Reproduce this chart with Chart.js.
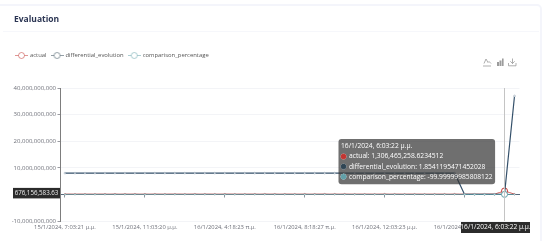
<!DOCTYPE html>
<html>
<head>
<meta charset="utf-8">
<script src="https://cdn.jsdelivr.net/npm/chart.js@4"></script>
<style>
html,body{margin:0;padding:0;background:#fff;width:550px;height:241px;overflow:hidden}
#card{position:absolute;left:-6px;top:4px;width:548px;height:300px;border:2px solid #f4f5fb;border-radius:5px;box-sizing:border-box}
#rule{position:absolute;left:3px;top:31px;width:536px;height:1px;background:#f6f7fb}
canvas{position:absolute;left:0;top:0}
</style>
</head>
<body>
<div id="card"></div><div id="rule"></div>
<canvas id="c" width="550" height="241"></canvas>
<script>
const titleText = 'Evaluation';
const seriesNames = ['actual', 'differential_evolution', 'comparison_percentage'];
const seriesColors = ['#c23531', '#2f4554', '#61a0a8'];
const tickLabels = {
  1: '15/1/2024, 7:03:21 μ.μ.',
  17: '15/1/2024, 11:03:20 μ.μ.',
  33: '16/1/2024, 4:18:23 π.μ.',
  49: '16/1/2024, 8:18:27 π.μ.',
  65: '16/1/2024, 12:03:23 μ.μ.',
  81: '16/1/2024, 4:03:22 μ.μ.'
};
const yMin = -10000000000, yMax = 40000000000, yStep = 10000000000;
const hoverIndex = 89;
const hoverTime = '16/1/2024, 6:03:22 μ.μ.';
const hoverY = 676156583.63;

const actual = [null,
 90000000,110000000,85000000,120000000,95000000,105000000,80000000,115000000,100000000,90000000,
 125000000,85000000,110000000,95000000,120000000,80000000,105000000,90000000,115000000,100000000,
 85000000,120000000,95000000,110000000,80000000,105000000,125000000,90000000,100000000,115000000,
 85000000,95000000,110000000,120000000,80000000,105000000,90000000,115000000,100000000,85000000,
 125000000,95000000,110000000,80000000,105000000,120000000,90000000,100000000,115000000,85000000,
 95000000,110000000,125000000,80000000,105000000,90000000,120000000,100000000,85000000,115000000,
 95000000,110000000,80000000,105000000,125000000,90000000,100000000,115000000,85000000,120000000,
 95000000,110000000,80000000,105000000,90000000,115000000,100000000,85000000,120000000,95000000,
 110000000,90000000,105000000,85000000,115000000,120000000,110000000,700000000,1306465258.6234512,700000000,
 95000000,null];
const differential_evolution = [null,
 8000000000,8000000000,8000000000,8000000000,8000000000,8000000000,8000000000,8000000000,8000000000,8000000000,
 8000000000,8000000000,8000000000,8000000000,8000000000,8000000000,8000000000,8000000000,8000000000,8000000000,
 8000000000,8000000000,8000000000,8000000000,8000000000,8000000000,8000000000,8000000000,8000000000,8000000000,
 8000000000,8000000000,8000000000,8000000000,8000000000,8000000000,8000000000,8000000000,8000000000,8000000000,
 8000000000,8000000000,8000000000,8000000000,8000000000,8000000000,8000000000,8000000000,8000000000,8000000000,
 8000000000,8000000000,8000000000,8000000000,8000000000,8000000000,8000000000,8000000000,8000000000,8000000000,
 8000000000,8000000000,8000000000,8000000000,8000000000,8000000000,8000000000,8000000000,8000000000,8000000000,
 8000000000,8000000000,8000000000,8000000000,8000000000,8000000000,8000000000,8000000000,8000000000,4000000000,
 3,2,2,3,2,2,3,2,1.8541195471452028,18500000000,
 37000000000,null];
const comparison_percentage = [null,
 -100,-100,-100,-100,-100,-100,-100,-100,-100,-100,
 -100,-100,-100,-100,-100,-100,-100,-100,-100,-100,
 -100,-100,-100,-100,-100,-100,-100,-100,-100,-100,
 -100,-100,-100,-100,-100,-100,-100,-100,-100,-100,
 -100,-100,-100,-100,-100,-100,-100,-100,-100,-100,
 -100,-100,-100,-100,-100,-100,-100,-100,-100,-100,
 -100,-100,-100,-100,-100,-100,-100,-100,-100,-100,
 -100,-100,-100,-100,-100,-100,-100,-100,-100,-100,
 -100,-100,-100,-100,-100,-100,-100,-100,-99.99999985808122,-100,
 -100,null];
const seriesData = [actual, differential_evolution, comparison_percentage];
const categories = actual.map((v, i) => tickLabels[i] || '');

const FONT = '"Open Sans"';

function legendIcon(color) {
  const c = document.createElement('canvas');
  c.width = 13; c.height = 9;
  const g = c.getContext('2d');
  g.strokeStyle = color; g.globalAlpha = 0.65; g.lineWidth = 0.8;
  g.beginPath(); g.moveTo(0, 4.5); g.lineTo(13, 4.5); g.stroke();
  g.globalAlpha = 1;
  g.beginPath(); g.arc(6.5, 4.5, 3, 0, Math.PI * 2);
  g.fillStyle = '#fff'; g.fill(); g.globalAlpha = 0.65; g.stroke();
  return c;
}
const icons = seriesColors.map(legendIcon);

function fmt(v) {
  const s = String(v), neg = s[0] === '-';
  const [a, b] = s.replace('-', '').split('.');
  return (neg ? '-' : '') + a.replace(/\B(?=(\d{3})+$)/g, ',') + (b ? '.' + b : '');
}

Chart.Tooltip.positioners.fixedBox = function () {
  return { x: 341.5, y: 139 };
};

const overlay = {
  id: 'overlay',
  beforeUpdate(chart) {
    const lg = chart.legend;
    if (!lg.__wrapped) {
      const f = lg.fit;
      lg.fit = function () { f.call(this); this.height = 40.5; };
      lg.__wrapped = true;
    }
  },
  afterLayout(chart) {
    chart.titleBlock.left = 14;
  },
  afterDatasetsDraw(chart) {
    const g = chart.ctx, x = chart.scales.x, y = chart.scales.y;
    const px = x.getPixelForValue(hoverIndex), py = y.getPixelForValue(hoverY);
    g.save();
    // vertical axis pointer
    g.strokeStyle = '#c4c4c4'; g.lineWidth = 1;
    g.beginPath(); g.moveTo(Math.floor(px) + .5, y.top); g.lineTo(Math.floor(px) + .5, y.bottom); g.stroke();
    // pointer labels
    g.font = '6.2px ' + FONT; g.textBaseline = 'middle'; g.textAlign = 'center';
    g.fillStyle = '#2b2b2b'; g.fillRect(13, py - 4.7, 47, 10.5);
    g.fillStyle = '#eee'; g.fillText(fmt(hoverY), 36.5, py + .5);
    g.fillStyle = '#2b2b2b'; g.fillRect(461, 222, 69, 11);
    g.fillStyle = '#fff'; g.font = '6.6px ' + FONT; g.fillText(hoverTime, 495.5, 227.5);
    // toolbox icons
    g.strokeStyle = '#8c8c8c'; g.lineWidth = .7;
    g.beginPath(); g.moveTo(483, 66); g.lineTo(491, 66);
    g.moveTo(484, 63.5); g.lineTo(486, 59); g.lineTo(488, 62.5); g.lineTo(489, 61.5); g.lineTo(491, 63.5); g.stroke();
    g.fillStyle = '#9c9c9c';
    g.fillRect(497, 62, 2, 4); g.fillRect(499.5, 60.5, 2, 5.5); g.fillRect(502, 58.5, 1.6, 7.5);
    g.beginPath(); g.moveTo(512.5, 58.5); g.lineTo(512.5, 63.5); g.moveTo(510.3, 61.3); g.lineTo(512.5, 63.5); g.lineTo(514.7, 61.3);
    g.moveTo(508.5, 63); g.lineTo(508.5, 65.8); g.lineTo(516, 65.8); g.lineTo(516, 63); g.stroke();
    g.restore();
  }
};

const ptRadius = (every, small, hover) => ctx => ctx.dataIndex === hoverIndex ? hover : (ctx.dataIndex % every === 1 % every ? small : 0);

const chart = new Chart(document.getElementById('c'), {
  type: 'line',
  data: {
    labels: categories,
    datasets: seriesNames.map((name, i) => ({
      label: name,
      data: seriesData[i],
      borderColor: i === 1 ? '#34506a' : seriesColors[i],
      backgroundColor: '#fff',
      borderWidth: i === 1 ? 1.2 : 0.8,
      pointBorderWidth: ctx => ctx.dataIndex === hoverIndex ? 1 : 0.5,
      pointRadius: i === 1 ? ptRadius(2, 0.9, 2) : ptRadius(2, 0.7, 3),
      pointBorderColor: i === 1 ? '#7f93a5' : seriesColors[i],
      pointBackgroundColor: '#fff',
      tension: 0,
      spanGaps: false,
      order: 3 - i
    }))
  },
  options: {
    responsive: false,
    animation: false,
    events: [],
    layout: { autoPadding: false, padding: { left: 11, right: 30.5, top: 0, bottom: 0 } },
    scales: {
      x: {
        type: 'category',
        position: 'bottom',
        grid: { display: false, drawTicks: false },
        border: { display: false },
        afterBuildTicks: a => { a.ticks = a.ticks.filter(t => tickLabels[t.value]); },
        afterFit: a => { a.height = 20; },
        ticks: { autoSkip: false, maxRotation: 0, minRotation: 0, padding: 2.5, color: '#6E7079', font: { family: FONT, size: 5.8 } }
      },
      x2: {
        type: 'category',
        axis: 'x',
        position: { y: 0 },
        grid: { drawOnChartArea: false, drawTicks: true, tickLength: 2.5, tickColor: '#5f6b7a', tickWidth: 0.7 },
        border: { color: '#56697c', width: 1 },
        afterBuildTicks: a => { a.ticks = a.ticks.filter(t => tickLabels[t.value]); },
        ticks: { autoSkip: false, maxRotation: 0, callback: () => '' , padding: 0, font: { size: 1 } }
      },
      y: {
        min: yMin, max: yMax,
        grid: { color: '#f3f4f7', lineWidth: 1, tickColor: '#6E7079', tickLength: 2.5, tickWidth: 0.7 },
        border: { color: '#7d7d7d', width: 1 },
        afterFit: a => { a.width = 49; },
        ticks: {
          stepSize: yStep, padding: 1.5, color: '#6E7079',
          font: { family: FONT, size: 6 },
          callback: v => Number(v).toLocaleString('en-US')
        }
      }
    },
    plugins: {
      title: {
        display: true, text: titleText, align: 'start', color: '#2b3553',
        font: { family: FONT, size: 8.5, weight: 'bold' },
        padding: { top: 14, bottom: 23.3 }
      },
      legend: {
        display: true, position: 'top', align: 'start',
        labels: {
          usePointStyle: true, pointStyleWidth: 11, padding: 5, color: '#555',
          font: { family: FONT, size: 5.9 },
          sort: (a, b) => a.datasetIndex - b.datasetIndex,
          generateLabels: ch => Chart.defaults.plugins.legend.labels.generateLabels(ch).map(it => ({ ...it, pointStyle: icons[it.datasetIndex] }))
        }
      },
      tooltip: {
        enabled: true, position: 'fixedBox', xAlign: 'left', yAlign: 'top',
        mode: 'index', intersect: false,
        backgroundColor: 'rgba(50,50,50,0.7)',
        caretSize: 0, caretPadding: 0, cornerRadius: 3,
        padding: { left: 2.5, right: 2.5, top: 3.5, bottom: 3.5 },
        titleColor: '#fff', bodyColor: '#fff',
        titleFont: { family: FONT, size: 6.7, weight: 'normal' },
        bodyFont: { family: FONT, size: 6.7 },
        titleMarginBottom: 2, bodySpacing: 2, boxPadding: 1,
        usePointStyle: true, boxWidth: 5, boxHeight: 5,
        callbacks: {
          title: () => hoverTime,
          label: it => it.dataset.label + ': ' + fmt(it.raw),
          labelPointStyle: () => ({ pointStyle: 'circle', rotation: 0 }),
          labelColor: it => ({ borderColor: seriesColors[it.datasetIndex], backgroundColor: seriesColors[it.datasetIndex] })
        }
      }
    }
  },
  plugins: [overlay]
});
chart.tooltip.setActiveElements(seriesNames.map((n, i) => ({ datasetIndex: i, index: hoverIndex })), { x: 504, y: 190 });
chart.render();
</script>
</body>
</html>
